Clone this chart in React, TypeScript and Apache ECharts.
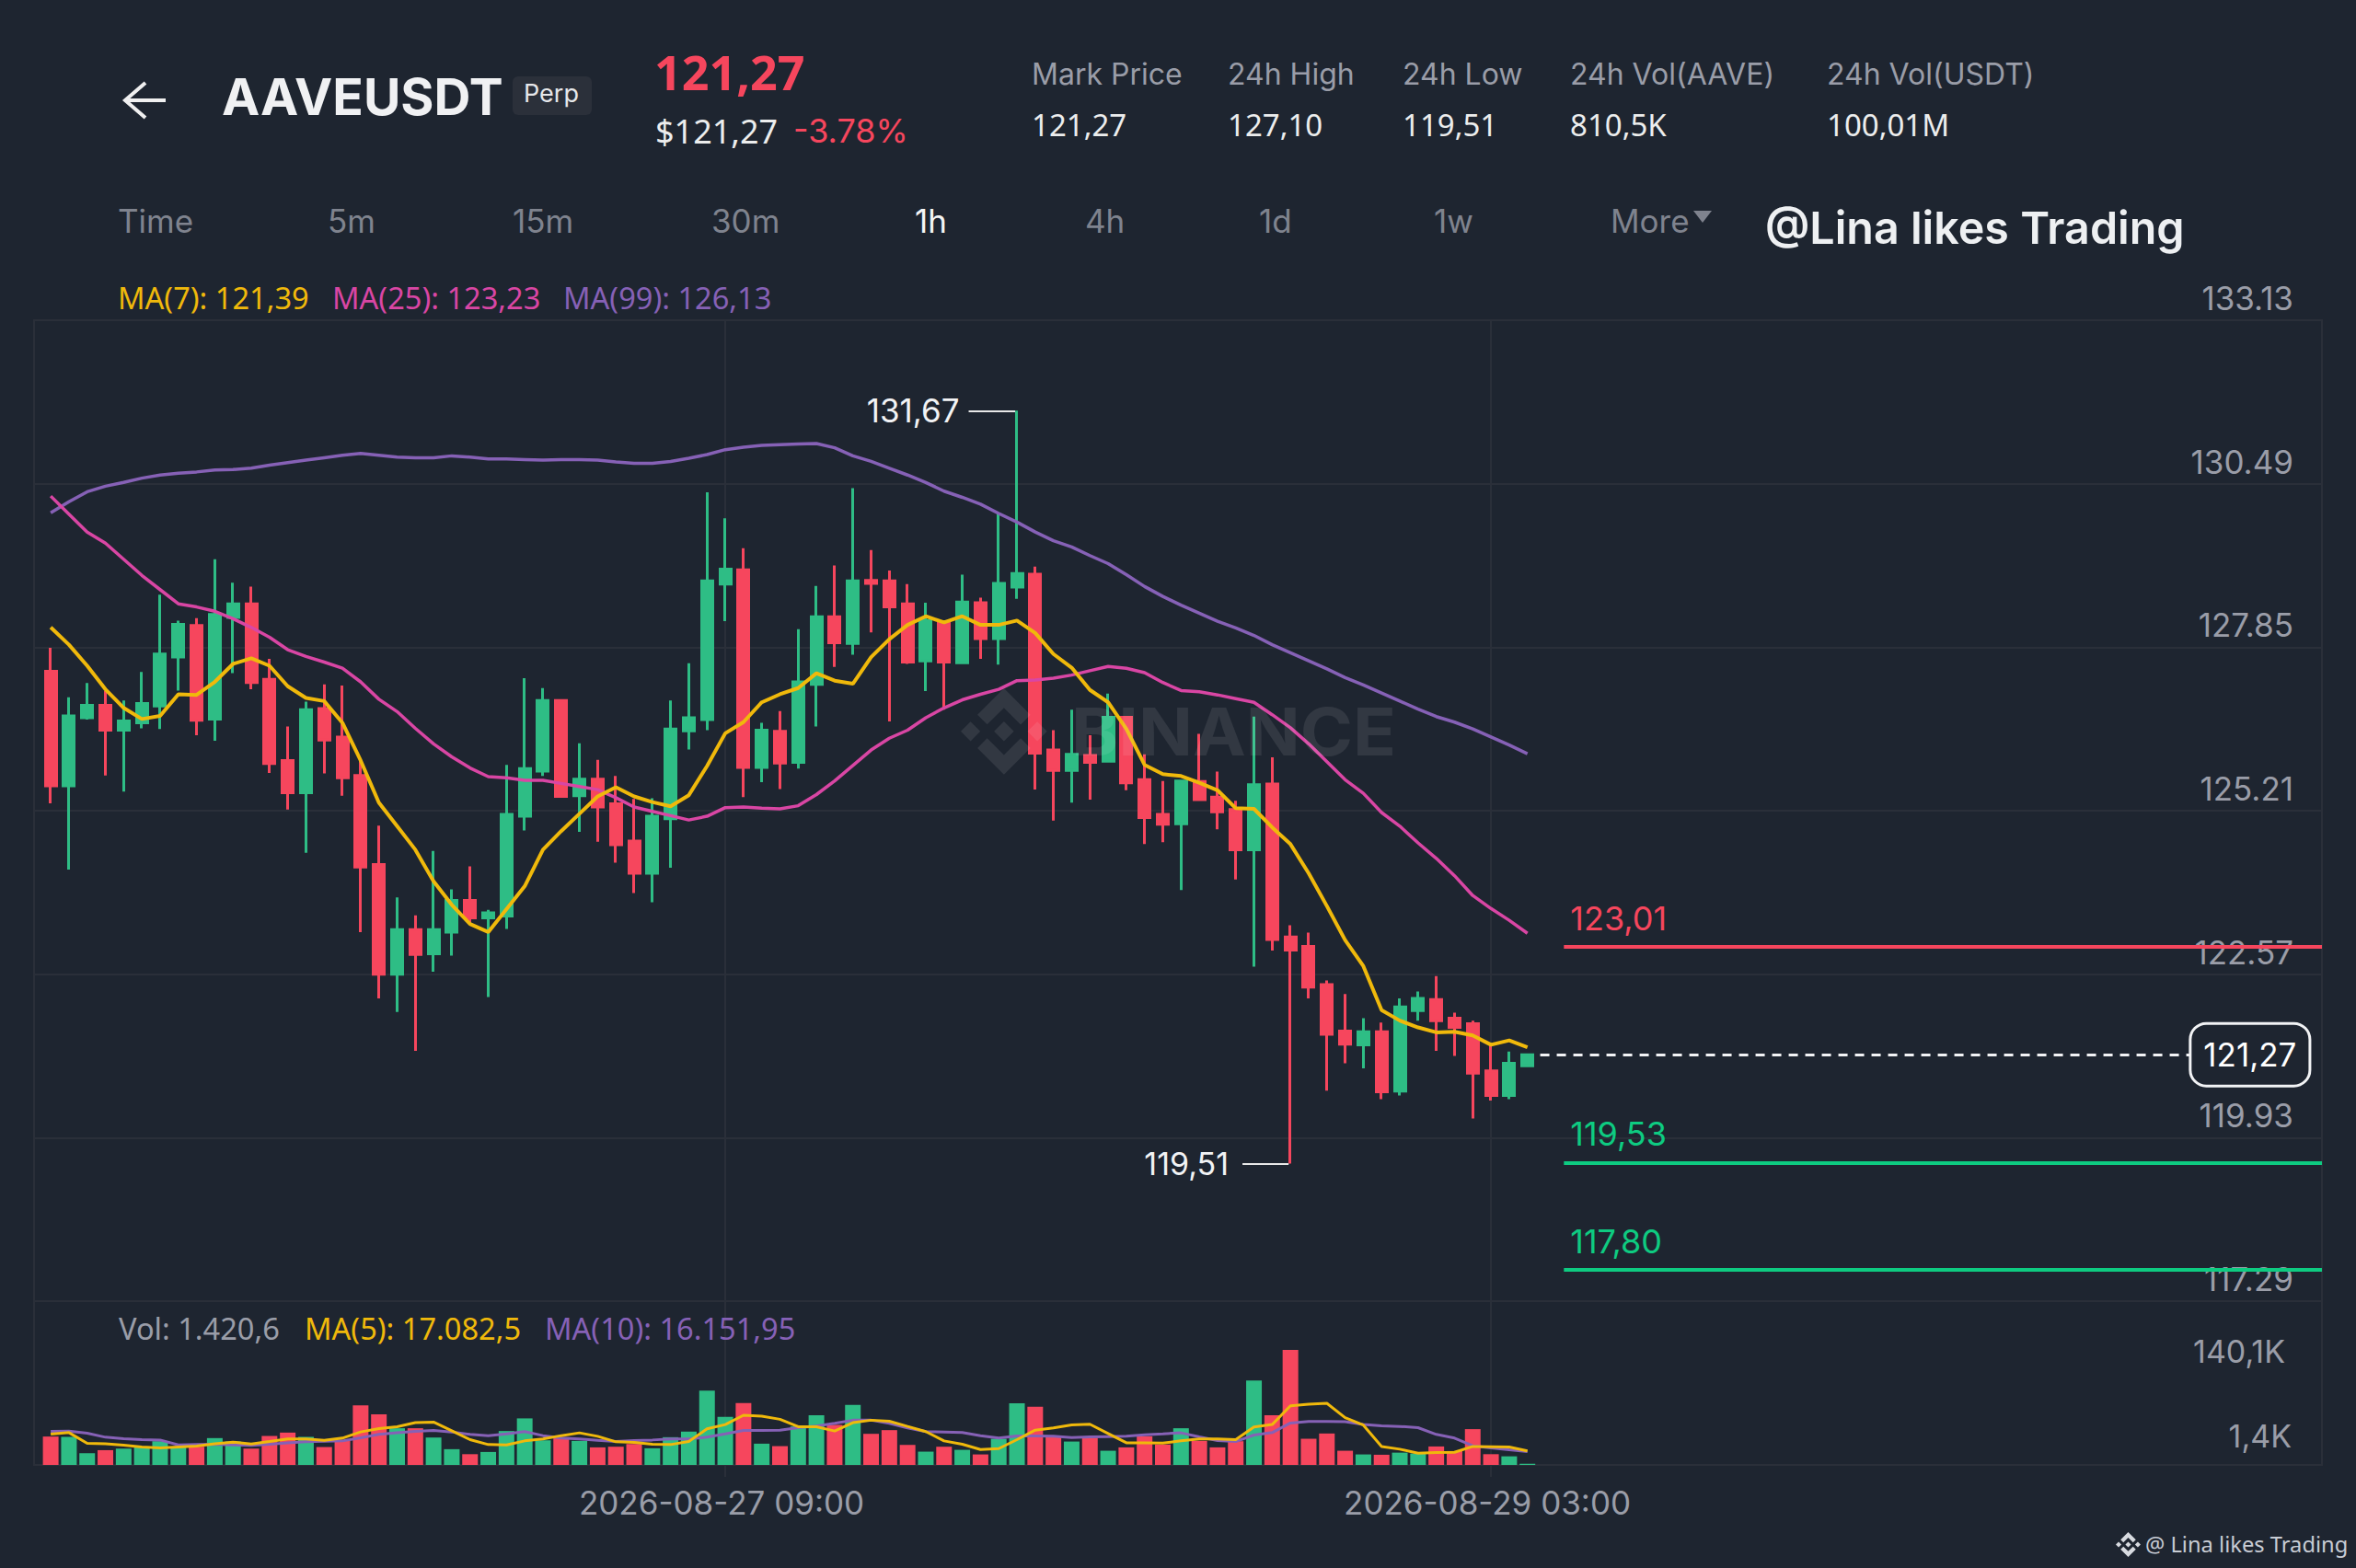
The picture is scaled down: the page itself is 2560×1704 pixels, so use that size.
import React, { useEffect, useRef } from "react";
import * as echarts from "echarts";

const FONT = "Inter";
const NOTO = "Noto Sans";
const BG = "#1e2530";
const RED = "#f6465d";
const GREEN = "#2ebd85";
const LEVEL_GREEN = "#0ecb81";
const GOLD = "#f0b90b";
const PINK = "#d946a4";
const PURPLE = "#8661b6";
const GRAY = "#9a9da8";
const DIM = "#7f838e";
const LINE = "#2a2f39";

const opens = [127.46,125.61,126.71,126.91,126.51,126.63,126.90,127.69,128.20,126.69,128.33,128.55,127.33,126.02,125.50,126.86,126.40,125.78,124.34,122.57,123.29,122.90,123.25,123.76,123.48,123.51,125.12,125.85,126.99,125.45,125.72,125.32,124.72,124.20,125.08,126.50,126.68,128.87,129.10,125.91,126.49,125.99,127.25,128.34,127.91,128.93,128.92,128.55,127.63,128.26,127.60,128.57,127.99,128.82,129.03,126.19,125.86,126.10,126.01,126.72,125.71,125.15,125.00,125.68,125.43,125.23,124.58,125.64,123.17,123.02,122.40,121.65,121.43,121.64,120.68,121.98,122.16,121.86,121.77,121.01,120.61,121.09];
const closes = [125.61,126.74,126.91,126.51,126.66,126.94,127.74,128.22,126.67,128.38,128.55,127.28,125.97,125.50,126.84,126.35,125.74,124.30,122.57,123.29,122.89,123.29,123.76,123.48,123.56,125.15,125.89,126.99,125.44,125.72,125.27,124.66,124.20,125.12,126.53,126.71,128.92,129.11,125.91,126.51,125.98,127.29,128.34,127.92,128.92,128.88,128.50,127.61,128.28,127.61,128.58,127.99,128.88,129.04,126.14,125.86,126.12,125.99,126.72,125.66,125.10,124.99,125.69,125.39,125.19,124.58,125.63,123.13,122.96,122.36,121.60,121.44,121.64,120.67,122.04,122.18,121.82,121.71,120.97,120.61,121.13,121.27];
const lows = [125.33,124.26,126.68,125.78,125.52,126.54,126.53,127.15,126.43,126.34,127.43,127.17,125.82,125.23,124.53,125.81,125.45,123.25,122.18,121.96,121.33,122.61,122.87,123.40,122.20,123.30,124.89,125.77,125.44,124.87,124.71,124.37,123.88,123.73,124.29,126.20,126.51,128.27,125.43,125.67,125.56,125.89,126.57,127.53,127.73,128.09,126.65,127.58,127.14,126.84,127.60,127.66,127.57,128.63,125.55,125.05,125.34,125.39,126.01,125.54,124.67,124.70,123.93,125.37,124.91,124.10,122.69,122.95,119.51,122.18,120.69,121.13,121.05,120.55,120.61,121.82,121.33,121.25,120.24,120.53,120.55,121.08];
const highs = [127.84,127.04,127.27,127.14,126.99,127.45,128.70,128.28,128.32,129.27,128.89,128.83,127.66,126.57,126.97,127.25,127.23,126.02,124.97,123.81,123.52,124.56,123.94,124.31,123.61,125.95,127.35,127.19,126.99,126.30,126.03,125.77,125.40,125.41,126.99,127.59,130.35,129.93,129.45,126.63,126.82,128.14,128.84,129.17,130.42,129.42,129.09,128.87,128.57,128.26,129.02,128.65,130.02,131.67,129.15,126.51,126.84,126.43,127.10,126.72,126.12,125.69,125.71,126.45,125.84,125.37,126.73,126.07,123.36,123.24,122.47,122.25,121.86,121.79,122.18,122.29,122.54,121.95,121.82,121.43,121.32,121.27];

const ma7 = [128.17,127.89,127.55,127.17,126.87,126.69,126.74,127.09,127.08,127.29,127.58,127.67,127.55,127.22,127.03,126.98,126.63,126.02,125.34,124.96,124.58,124.07,123.69,123.38,123.25,123.62,123.99,124.58,124.88,125.16,125.44,125.59,125.44,125.35,125.28,125.46,125.93,126.46,126.64,126.96,127.09,127.19,127.43,127.31,127.26,127.69,127.98,128.21,128.35,128.25,128.35,128.21,128.21,128.28,128.08,127.74,127.52,127.16,126.96,126.53,125.95,125.80,125.77,125.66,125.54,125.25,125.24,124.94,124.67,124.20,123.67,123.12,122.70,121.99,121.82,121.71,121.63,121.64,121.58,121.43,121.50,121.39];
const ma25 = [130.29,130.00,129.71,129.53,129.27,129.01,128.78,128.55,128.50,128.43,128.31,128.17,128.01,127.81,127.70,127.61,127.51,127.29,127.01,126.81,126.54,126.29,126.08,125.90,125.76,125.74,125.70,125.70,125.65,125.60,125.55,125.42,125.27,125.20,125.13,125.06,125.12,125.26,125.27,125.25,125.24,125.29,125.47,125.69,125.94,126.19,126.38,126.51,126.71,126.87,127.00,127.09,127.17,127.31,127.32,127.35,127.40,127.47,127.54,127.51,127.44,127.28,127.15,127.13,127.08,127.02,126.96,126.76,126.55,126.29,126.00,125.71,125.49,125.18,124.96,124.69,124.44,124.16,123.84,123.63,123.44,123.23];
const ma99 = [130.02,130.20,130.36,130.45,130.51,130.58,130.63,130.66,130.68,130.71,130.72,130.74,130.79,130.83,130.87,130.91,130.95,130.98,130.95,130.92,130.91,130.91,130.94,130.92,130.89,130.89,130.88,130.87,130.88,130.88,130.87,130.84,130.82,130.82,130.85,130.90,130.96,131.04,131.08,131.11,131.12,131.13,131.14,131.07,130.94,130.85,130.74,130.63,130.51,130.37,130.27,130.16,130.01,129.87,129.71,129.57,129.47,129.33,129.20,129.02,128.83,128.67,128.53,128.40,128.27,128.16,128.04,127.89,127.76,127.63,127.50,127.36,127.24,127.11,126.98,126.85,126.73,126.64,126.53,126.40,126.27,126.13];

const volumes = [34.6,34.2,14.3,18.0,19.9,21.4,28.9,21.4,22.2,32.7,28.5,19.9,35.3,39.4,34.2,21.8,30.0,72.5,61.6,44.7,44.7,33.4,19.2,13.1,15.8,41.3,56.7,30.0,33.1,29.3,21.4,22.2,25.5,20.3,33.8,40.6,90.5,58.6,75.5,25.9,22.9,46.9,60.5,48.8,73.2,37.9,42.4,24.4,16.2,22.2,18.4,12.8,31.9,75.1,71.0,33.8,28.5,33.1,17.3,21.4,34.9,24.8,44.7,29.3,21.4,28.9,102.9,60.5,140.1,31.9,38.3,17.3,12.8,12.4,15.0,13.9,22.5,16.9,43.6,13.1,10.5,1.42];
const volMa5 = [37.6,39.4,26.3,25.9,24.0,21.8,20.7,21.8,22.9,25.9,27.8,25.5,28.5,31.6,31.6,30.0,32.7,40.2,44.3,46.6,51.5,52.2,41.7,30.8,24.8,24.4,29.3,31.6,35.7,39.1,34.9,28.2,27.4,25.2,24.8,28.5,43.9,49.2,60.5,59.3,55.6,46.6,46.6,41.3,51.5,54.5,53.3,46.9,40.6,29.3,25.2,18.8,19.9,30.8,42.4,45.1,48.8,49.6,38.3,27.0,27.0,26.7,29.3,31.6,31.6,30.8,46.2,49.2,72.1,74.0,75.1,57.5,48.5,22.5,19.2,14.3,15.0,15.4,22.5,22.2,21.8,17.08];
const volMa10 = [40.9,41.3,38.7,33.8,31.9,30.8,30.4,24.4,24.8,25.2,24.4,23.7,25.2,27.0,28.2,28.9,29.3,33.1,37.2,39.1,40.9,42.1,40.2,37.2,35.7,37.9,40.6,35.7,32.7,31.6,30.0,28.5,29.7,30.4,31.6,31.6,33.8,37.9,42.1,42.1,42.4,45.4,47.3,50.7,54.5,54.5,50.7,45.1,40.6,40.2,39.4,35.7,32.7,35.3,35.3,34.9,33.4,34.2,34.6,34.9,36.8,37.9,39.1,34.2,29.7,28.5,36.4,39.4,51.1,53.0,53.0,52.6,49.2,47.7,46.9,45.4,37.2,32.7,23.3,20.7,18.4,16.15];

const priceTicks = [117.29,119.93,122.57,125.21,127.85,130.49,133.13];
const timeTickIndex = [37,79];
const timeTickLabels = ["2026-08-27 09:00","2026-08-29 03:00"];
const levels = [
  { value: 123.01, label: "123,01", color: RED },
  { value: 119.53, label: "119,53", color: LEVEL_GREEN },
  { value: 117.8, label: "117,80", color: LEVEL_GREEN },
];
const lastPrice = 121.27;
const highAnno = { index: 53, value: 131.67, label: "131,67" };
const lowAnno = { index: 68, value: 119.51, label: "119,51" };

const timeframes: [string, number][] = [["Time",128],["5m",356],["15m",557],["30m",773],["1h",994],["4h",1179],["1d",1368],["1w",1558],["More",1750]];
const stats: [string, string, number][] = [["Mark Price","121,27",1121],["24h High","127,10",1334],["24h Low","119,51",1524],["24h Vol(AAVE)","810,5K",1706],["24h Vol(USDT)","100,01M",1985]];
const maLegend: [string, string, number][] = [["MA(7): 121,39",GOLD,128],["MA(25): 123,23",PINK,361],["MA(99): 126,13",PURPLE,612]];
const volLegend: [string, string, number][] = [["Vol: 1.420,6",GRAY,129],["MA(5): 17.082,5",GOLD,331],["MA(10): 16.151,95",PURPLE,592]];

const LOGO = "M38.73 53.2l24.59-24.58 24.6 24.6 14.3-14.31L63.32 0 24.42 38.9l14.31 14.3zM0 63.31l14.3-14.31 14.31 14.31-14.31 14.3zM38.73 73.41l24.59 24.59 24.6-24.6 14.31 14.29-38.9 38.91-38.91-38.88-.02-.02zM98 63.31l14.3-14.31 14.31 14.3-14.31 14.32zM77.83 63.3l-14.51-14.52-10.73 10.73-1.24 1.23-2.54 2.54 14.51 14.5 14.51-14.47z";
echarts.graphic.registerShape("bnbLogo", echarts.graphic.extendPath(LOGO, {}) as any);

const idx = (a: number[]) => a.map((v, i) => [i, v]);

function tx(text: string, x: number, y: number, size: number, fill: string, weight: number | string = 400, align = "left", extra: any = {}, family = FONT) {
  return { type: "text", x, y, z: 50, silent: true, ...extra, style: { text, x: 0, y: 0, fill, fontSize: size, fontWeight: weight, fontFamily: family, textAlign: align, textVerticalAlign: "middle" } };
}

function buildOption() {
  const xMin = -0.914, xMax = 124.58;
  const graphic: any[] = [
    { type: "polyline", z: 50, shape: { points: [[158, 90], [136, 109], [158, 128]] }, style: { stroke: "#f0f0f0", lineWidth: 4, fill: "none" } },
    { type: "line", z: 50, shape: { x1: 137, y1: 109, x2: 180, y2: 109 }, style: { stroke: "#f0f0f0", lineWidth: 4 } },
    tx("AAVEUSDT", 241, 104, 55.3, "#f0f1f3", 700),
    { type: "rect", z: 49, shape: { x: 557, y: 83, width: 86, height: 42, r: 6 }, style: { fill: "#2b303a" } },
    tx("Perp", 569, 101, 27, "#e6e7ea"),
    tx("121,27", 711, 77, 52, RED, 700, "left", {}, NOTO),
    tx("$121,27", 712, 142, 36, "#eceded", 400, "left", {}, NOTO),
    tx("-3.78%", 862, 142, 36, RED),
    tx("@Lina likes Trading", 1918, 247, 48.4, "#eef0f2", 600),
    { type: "polygon", z: 50, shape: { points: [[1840, 229], [1860, 229], [1850, 242]] }, style: { fill: DIM } },
    tx("140,1K", 2483, 1468, 34, GRAY, 400, "right"),
    tx("1,4K", 2490, 1560, 34, GRAY, 400, "right"),
    tx("BINANCE", 1164, 795, 71, "rgba(255,255,255,0.09)", 700, "left", { scaleX: 1.09, z: 60 }),
    { type: "bnbLogo", x: 1044, y: 748, scaleX: 0.74, scaleY: 0.74, z: 60, style: { fill: "rgba(255,255,255,0.09)" } },
    { type: "bnbLogo", x: 2299, y: 1665, scaleX: 0.213, scaleY: 0.213, z: 50, style: { fill: "#d8dbe0" } },
    tx("@ Lina likes Trading", 2331, 1678, 23.7, "#c8ccd4", 400, "left", {}, NOTO),
  ];
  for (const [label, value, x] of stats) {
    graphic.push(tx(label, x, 80, 32, GRAY));
    graphic.push(tx(value, x, 135.5, 33, "#eceded", 400, "left", {}, NOTO));
  }
  for (const [label, x] of timeframes) graphic.push(tx(label, x, 240, 35, label === "1h" ? "#f4f5f6" : DIM));
  for (const [label, color, x] of maLegend) graphic.push(tx(label, x, 323, 32.6, color, 400, "left", {}, NOTO));
  for (const [label, color, x] of volLegend) graphic.push(tx(label, x, 1443, 32.6, color, 400, "left", {}, NOTO));

  const ml = (from: number[], to: number[], color: string, width: number, type: any, label: any) => [
    { coord: from, lineStyle: { color, width, type }, label },
    { coord: to, lineStyle: { color, width, type }, label },
  ];

  return {
    animation: false,
    backgroundColor: BG,
    graphic,
    grid: [
      { left: 37, top: 348, width: 2486, height: 1066, show: true, borderColor: LINE, borderWidth: 2, backgroundColor: "transparent" },
      { left: 37, top: 1414, width: 2486, height: 178, show: true, borderColor: LINE, borderWidth: 2, backgroundColor: "transparent" },
    ],
    xAxis: [
      { type: "value", gridIndex: 0, min: xMin, max: xMax, axisLine: { show: false }, axisLabel: { show: false }, axisTick: { show: false, customValues: timeTickIndex }, splitLine: { show: true, lineStyle: { color: LINE, width: 2 } } },
      { type: "value", gridIndex: 1, min: xMin, max: xMax, axisLine: { show: false },
        axisTick: { show: true, length: 13, customValues: timeTickIndex, lineStyle: { color: LINE, width: 2 } },
        splitLine: { show: true, lineStyle: { color: LINE, width: 2 } },
        axisLabel: { show: true, customValues: timeTickIndex, margin: 23, padding: [0, 8, 0, 0], color: GRAY, fontSize: 35, fontFamily: FONT, formatter: (v: number) => timeTickLabels[timeTickIndex.indexOf(v)] } },
    ],
    yAxis: [
      { type: "value", gridIndex: 0, position: "right", min: priceTicks[0], max: priceTicks[6], scale: true, axisLine: { show: false },
        axisTick: { show: false, customValues: priceTicks },
        splitLine: { show: true, lineStyle: { color: LINE, width: 2 } },
        axisLabel: { show: true, inside: true, customValues: priceTicks, margin: 31, color: GRAY, fontSize: 35, fontFamily: FONT, verticalAlign: "bottom", lineHeight: 48, formatter: (v: number) => v.toFixed(2) } },
      { type: "value", gridIndex: 1, position: "right", min: 0, max: 199.5, axisLine: { show: false }, axisTick: { show: false }, axisLabel: { show: false }, splitLine: { show: false } },
    ],
    series: [
      {
        type: "bar", xAxisIndex: 1, yAxisIndex: 1, barWidth: 17, z: 2,
        data: volumes.map((v, i) => ({ value: [i, v], itemStyle: { color: closes[i] >= opens[i] ? GREEN : RED } })),
      },
      { type: "line", xAxisIndex: 1, yAxisIndex: 1, data: idx(volMa10), showSymbol: false, symbol: "none", lineStyle: { color: PURPLE, width: 3 }, z: 3 },
      { type: "line", xAxisIndex: 1, yAxisIndex: 1, data: idx(volMa5), showSymbol: false, symbol: "none", lineStyle: { color: GOLD, width: 3 }, z: 4 },
      {
        type: "candlestick", xAxisIndex: 0, yAxisIndex: 0, barWidth: 12.5, z: 2,
        data: opens.map((o, i) => [i, o, closes[i], lows[i], highs[i]]),
        itemStyle: { color: GREEN, color0: RED, borderColor: GREEN, borderColor0: RED, borderWidth: 3 },
        markLine: {
          silent: true, symbol: ["none", "none"], animation: false, precision: 2,
          data: [
            ...levels.map((l) => ml([83, l.value], [xMax, l.value], l.color, 4, "solid", {
              show: true, position: "insideStartTop", distance: 7, padding: [0, 0, 6, 0], formatter: l.label, color: l.color, fontSize: 36, fontFamily: FONT,
            })),
            ml([81.7, lastPrice], [117.43, lastPrice], "#f2f3f5", 3, [10, 8], {
              show: true, position: "end", distance: 0, formatter: "121,27", color: "#ffffff", fontSize: 35, fontFamily: FONT,
              backgroundColor: BG, borderColor: "#f2f3f5", borderWidth: 3, borderRadius: 16, padding: [15, 13],
            }),
            ml([highAnno.index - 0.1, highAnno.value], [50.35, highAnno.value], "#e8e8e8", 2, "solid", {
              show: true, position: "end", distance: 10, formatter: highAnno.label, color: "#f2f3f5", fontSize: 35, fontFamily: FONT,
            }),
            ml([lowAnno.index - 0.1, lowAnno.value], [65.37, lowAnno.value], "#e8e8e8", 2, "solid", {
              show: true, position: "end", distance: 15, formatter: lowAnno.label, color: "#f2f3f5", fontSize: 34, fontFamily: FONT,
            }),
          ],
        },
      },
      { type: "line", xAxisIndex: 0, yAxisIndex: 0, data: idx(ma99), showSymbol: false, symbol: "none", lineStyle: { color: PURPLE, width: 3.5 }, z: 3 },
      { type: "line", xAxisIndex: 0, yAxisIndex: 0, data: idx(ma25), showSymbol: false, symbol: "none", lineStyle: { color: PINK, width: 3.5 }, z: 4 },
      { type: "line", xAxisIndex: 0, yAxisIndex: 0, data: idx(ma7), showSymbol: false, symbol: "none", lineStyle: { color: GOLD, width: 4 }, z: 5 },
    ],
  };
}

export default function App() {
  const ref = useRef<HTMLDivElement>(null);
  useEffect(() => {
    document.body.style.margin = "0";
    document.body.style.background = BG;
    const chart = echarts.init(ref.current!, undefined, { renderer: "svg" });
    chart.setOption(buildOption() as any);
    return () => chart.dispose();
  }, []);
  return <div ref={ref} style={{ width: 2560, height: 1704 }} />;
}
